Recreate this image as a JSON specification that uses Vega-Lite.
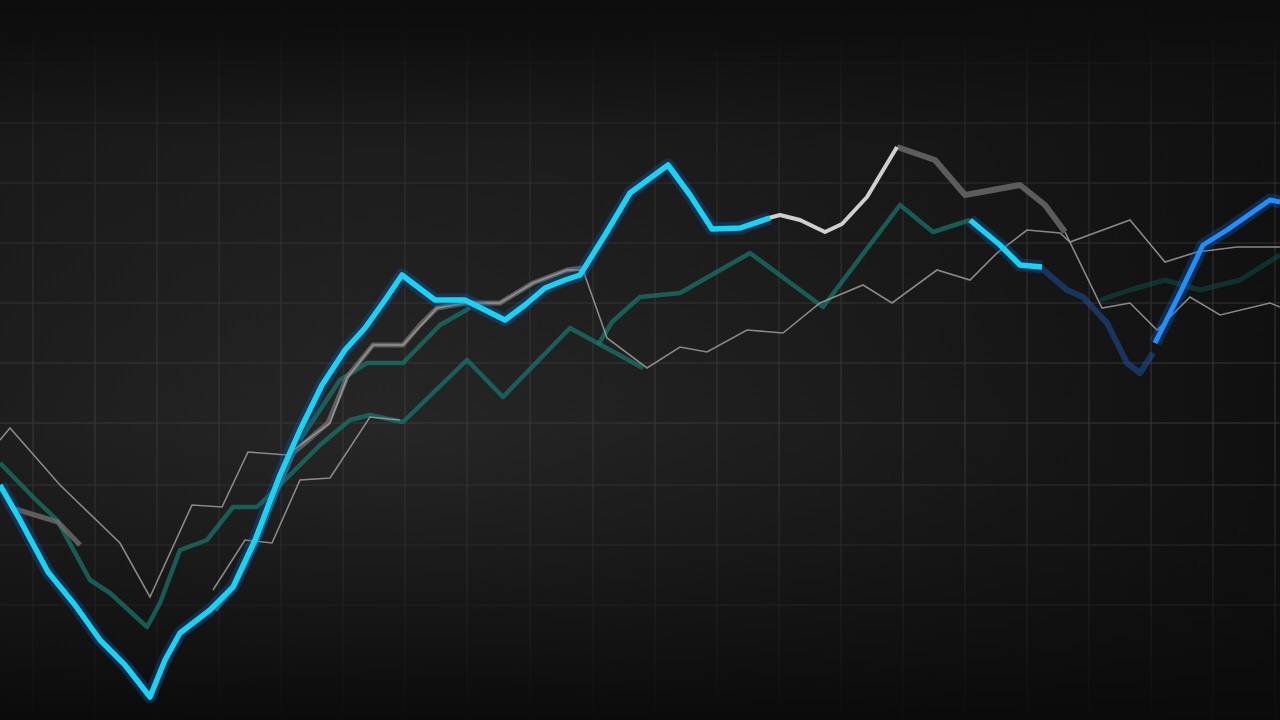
{
  "$schema": "https://vega.github.io/schema/vega-lite/v6.json",
  "width": 1280,
  "height": 720,
  "padding": 0,
  "autosize": {"type": "none"},
  "background": "#0d0d0d",
  "config": {
    "view": {
      "stroke": null,
      "fill": {"gradient": "radial", "x1": 0.3, "y1": 0.55, "r1": 0, "x2": 0.3, "y2": 0.55, "r2": 0.8,
        "stops": [{"offset": 0, "color": "#262626"}, {"offset": 0.45, "color": "#1c1c1c"}, {"offset": 1, "color": "#0c0c0c"}]}
    }
  },
  "datasets": {
    "gx": [{"x":33},{"x":95},{"x":157},{"x":219},{"x":281},{"x":343},{"x":405},{"x":467},{"x":530},{"x":593},{"x":655},{"x":717},{"x":779},{"x":841},{"x":903},{"x":965},{"x":1027},{"x":1089},{"x":1151},{"x":1213},{"x":1275}],
    "gy": [{"v":657},{"v":597},{"v":537},{"v":477},{"v":417},{"v":357},{"v":297},{"v":235},{"v":175},{"v":115}],
    "pts": [
      {"s":"cyan","i":1,"x":0,"v":235},{"s":"cyan","i":2,"x":20,"v":200},{"s":"cyan","i":3,"x":48,"v":148},{"s":"cyan","i":4,"x":75,"v":115},{"s":"cyan","i":5,"x":100,"v":80},{"s":"cyan","i":6,"x":125,"v":55},{"s":"cyan","i":7,"x":150,"v":23},{"s":"cyan","i":8,"x":165,"v":60},{"s":"cyan","i":9,"x":180,"v":87},{"s":"cyan","i":10,"x":210,"v":110},{"s":"cyan","i":11,"x":233,"v":133},{"s":"cyan","i":12,"x":255,"v":180},{"s":"cyan","i":13,"x":280,"v":245},{"s":"cyan","i":14,"x":300,"v":290},{"s":"cyan","i":15,"x":322,"v":335},{"s":"cyan","i":16,"x":345,"v":370},{"s":"cyan","i":17,"x":365,"v":392},{"s":"cyan","i":18,"x":385,"v":420},{"s":"cyan","i":19,"x":402,"v":445},{"s":"cyan","i":20,"x":435,"v":420},{"s":"cyan","i":21,"x":465,"v":420},{"s":"cyan","i":22,"x":485,"v":410},{"s":"cyan","i":23,"x":505,"v":400},{"s":"cyan","i":24,"x":525,"v":415},{"s":"cyan","i":25,"x":545,"v":432},{"s":"cyan","i":26,"x":565,"v":440},{"s":"cyan","i":27,"x":580,"v":445},{"s":"cyan","i":28,"x":605,"v":485},{"s":"cyan","i":29,"x":630,"v":527},{"s":"cyan","i":30,"x":668,"v":555},{"s":"cyan","i":31,"x":690,"v":525},{"s":"cyan","i":32,"x":712,"v":491},{"s":"cyan","i":33,"x":740,"v":492},{"s":"cyan","i":34,"x":770,"v":502},
      {"s":"gw1","i":1,"x":765,"v":501},{"s":"gw1","i":2,"x":780,"v":505},{"s":"gw1","i":3,"x":800,"v":500},{"s":"gw1","i":4,"x":825,"v":488},{"s":"gw1","i":5,"x":842,"v":496},{"s":"gw1","i":6,"x":867,"v":523},{"s":"gw1","i":7,"x":897,"v":573},
      {"s":"gw2","i":1,"x":897,"v":573},{"s":"gw2","i":2,"x":935,"v":560},{"s":"gw2","i":3,"x":965,"v":525},{"s":"gw2","i":4,"x":1020,"v":535},{"s":"gw2","i":5,"x":1045,"v":515},{"s":"gw2","i":6,"x":1065,"v":488},
      {"s":"gt","i":1,"x":215,"v":110},{"s":"gt","i":2,"x":235,"v":135},{"s":"gt","i":3,"x":255,"v":175},{"s":"gt","i":4,"x":275,"v":225},{"s":"gt","i":5,"x":293,"v":267},{"s":"gt","i":6,"x":328,"v":297},{"s":"gt","i":7,"x":347,"v":343},{"s":"gt","i":8,"x":373,"v":375},{"s":"gt","i":9,"x":403,"v":375},{"s":"gt","i":10,"x":420,"v":395},{"s":"gt","i":11,"x":437,"v":412},{"s":"gt","i":12,"x":465,"v":417},{"s":"gt","i":13,"x":500,"v":417},{"s":"gt","i":14,"x":533,"v":437},{"s":"gt","i":15,"x":567,"v":450},{"s":"gt","i":16,"x":583,"v":452},
      {"s":"gt0","i":1,"x":12,"v":212},{"s":"gt0","i":2,"x":25,"v":208},{"s":"gt0","i":3,"x":58,"v":198},{"s":"gt0","i":4,"x":80,"v":175},
      {"s":"thinA","i":1,"x":0,"v":280},{"s":"thinA","i":2,"x":10,"v":292},{"s":"thinA","i":3,"x":60,"v":235},{"s":"thinA","i":4,"x":120,"v":177},{"s":"thinA","i":5,"x":150,"v":123},{"s":"thinA","i":6,"x":192,"v":215},{"s":"thinA","i":7,"x":222,"v":213},{"s":"thinA","i":8,"x":248,"v":268},{"s":"thinA","i":9,"x":287,"v":265},{"s":"thinA","i":10,"x":330,"v":297},{"s":"thinA","i":11,"x":347,"v":342},{"s":"thinA","i":12,"x":373,"v":375},{"s":"thinA","i":13,"x":403,"v":375},{"s":"thinA","i":14,"x":437,"v":412},{"s":"thinA","i":15,"x":465,"v":417},{"s":"thinA","i":16,"x":500,"v":417},{"s":"thinA","i":17,"x":533,"v":437},{"s":"thinA","i":18,"x":567,"v":450},{"s":"thinA","i":19,"x":583,"v":450},{"s":"thinA","i":20,"x":607,"v":382},{"s":"thinA","i":21,"x":647,"v":352},{"s":"thinA","i":22,"x":680,"v":373},{"s":"thinA","i":23,"x":707,"v":368},{"s":"thinA","i":24,"x":747,"v":390},{"s":"thinA","i":25,"x":783,"v":387},{"s":"thinA","i":26,"x":820,"v":417},{"s":"thinA","i":27,"x":863,"v":435},{"s":"thinA","i":28,"x":892,"v":417},{"s":"thinA","i":29,"x":937,"v":450},{"s":"thinA","i":30,"x":970,"v":440},{"s":"thinA","i":31,"x":997,"v":467},{"s":"thinA","i":32,"x":1027,"v":490},{"s":"thinA","i":33,"x":1060,"v":487},{"s":"thinA","i":34,"x":1070,"v":478},{"s":"thinA","i":35,"x":1130,"v":500},{"s":"thinA","i":36,"x":1165,"v":458},{"s":"thinA","i":37,"x":1197,"v":468},{"s":"thinA","i":38,"x":1237,"v":473},{"s":"thinA","i":39,"x":1280,"v":473},
      {"s":"thinB","i":1,"x":213,"v":130},{"s":"thinB","i":2,"x":245,"v":180},{"s":"thinB","i":3,"x":272,"v":177},{"s":"thinB","i":4,"x":300,"v":240},{"s":"thinB","i":5,"x":330,"v":242},{"s":"thinB","i":6,"x":370,"v":303},{"s":"thinB","i":7,"x":400,"v":300},
      {"s":"thinD","i":1,"x":1065,"v":488},{"s":"thinD","i":2,"x":1102,"v":412},{"s":"thinD","i":3,"x":1130,"v":417},{"s":"thinD","i":4,"x":1157,"v":390},{"s":"thinD","i":5,"x":1190,"v":423},{"s":"thinD","i":6,"x":1220,"v":405},{"s":"thinD","i":7,"x":1270,"v":417},{"s":"thinD","i":8,"x":1280,"v":413},
      {"s":"tealA","i":1,"x":0,"v":257},{"s":"tealA","i":2,"x":33,"v":223},{"s":"tealA","i":3,"x":57,"v":200},{"s":"tealA","i":4,"x":90,"v":140},{"s":"tealA","i":5,"x":110,"v":127},{"s":"tealA","i":6,"x":147,"v":93},{"s":"tealA","i":7,"x":160,"v":117},{"s":"tealA","i":8,"x":180,"v":170},{"s":"tealA","i":9,"x":207,"v":180},{"s":"tealA","i":10,"x":233,"v":213},{"s":"tealA","i":11,"x":257,"v":213},{"s":"tealA","i":12,"x":285,"v":240},{"s":"tealA","i":13,"x":320,"v":275},{"s":"tealA","i":14,"x":350,"v":300},{"s":"tealA","i":15,"x":370,"v":305},{"s":"tealA","i":16,"x":403,"v":298},{"s":"tealA","i":17,"x":467,"v":360},{"s":"tealA","i":18,"x":503,"v":323},{"s":"tealA","i":19,"x":570,"v":392},{"s":"tealA","i":20,"x":643,"v":352},
      {"s":"tealB","i":1,"x":300,"v":280},{"s":"tealB","i":2,"x":340,"v":340},{"s":"tealB","i":3,"x":367,"v":357},{"s":"tealB","i":4,"x":403,"v":357},{"s":"tealB","i":5,"x":440,"v":395},{"s":"tealB","i":6,"x":470,"v":412},
      {"s":"tealC","i":1,"x":598,"v":375},{"s":"tealC","i":2,"x":612,"v":398},{"s":"tealC","i":3,"x":640,"v":423},{"s":"tealC","i":4,"x":680,"v":427},{"s":"tealC","i":5,"x":750,"v":467},{"s":"tealC","i":6,"x":823,"v":413},{"s":"tealC","i":7,"x":900,"v":515},{"s":"tealC","i":8,"x":933,"v":488},{"s":"tealC","i":9,"x":970,"v":500},
      {"s":"tealR","i":1,"x":1100,"v":420},{"s":"tealR","i":2,"x":1130,"v":430},{"s":"tealR","i":3,"x":1165,"v":440},{"s":"tealR","i":4,"x":1200,"v":430},{"s":"tealR","i":5,"x":1240,"v":440},{"s":"tealR","i":6,"x":1280,"v":465},
      {"s":"cyan2","i":1,"x":970,"v":500},{"s":"cyan2","i":2,"x":1000,"v":475},{"s":"cyan2","i":3,"x":1020,"v":455},{"s":"cyan2","i":4,"x":1042,"v":453},
      {"s":"fade","i":1,"x":1040,"v":453},{"s":"fade","i":2,"x":1067,"v":430},{"s":"fade","i":3,"x":1083,"v":423},{"s":"fade","i":4,"x":1107,"v":397},{"s":"fade","i":5,"x":1127,"v":357},{"s":"fade","i":6,"x":1140,"v":347},{"s":"fade","i":7,"x":1153,"v":367},
      {"s":"blue","i":1,"x":1155,"v":377},{"s":"blue","i":2,"x":1180,"v":427},{"s":"blue","i":3,"x":1203,"v":475},{"s":"blue","i":4,"x":1227,"v":490},{"s":"blue","i":5,"x":1270,"v":520},{"s":"blue","i":6,"x":1280,"v":518}
    ],
    "frame": [{"x0": 0, "x1": 1280, "v0": 0, "v1": 720}]
  },
  "encoding": {
    "x": {"field": "x", "type": "quantitative", "scale": {"domain": [0, 1280], "nice": false, "zero": false}, "axis": null},
    "y": {"field": "v", "type": "quantitative", "scale": {"domain": [0, 720], "nice": false, "zero": false}, "axis": null}
  },
  "layer": [
    {
      "data": {"name": "gx"},
      "mark": {"type": "rule", "color": "#3b3b3b", "strokeWidth": 1},
      "encoding": {"x": {"field": "x", "type": "quantitative"}, "y": null}
    },
    {
      "data": {"name": "gy"},
      "mark": {"type": "rule", "color": "#383838", "strokeWidth": 1},
      "encoding": {"y": {"field": "v", "type": "quantitative"}, "x": null}
    },
    {
      "data": {"name": "frame"},
      "mark": {"type": "rect", "fill": {"gradient": "linear", "x1": 0, "y1": 0, "x2": 0, "y2": 1,
        "stops": [{"offset": 0, "color": "rgba(13,13,13,1)"}, {"offset": 0.05, "color": "rgba(14,14,14,0.95)"}, {"offset": 0.2, "color": "rgba(20,20,20,0.3)"}, {"offset": 0.6, "color": "rgba(20,20,20,0)"}, {"offset": 0.8, "color": "rgba(14,14,14,0.45)"}, {"offset": 1, "color": "rgba(10,10,10,0.95)"}]}},
      "encoding": {"x": {"field": "x0", "type": "quantitative"}, "x2": {"field": "x1"}, "y": {"field": "v0", "type": "quantitative"}, "y2": {"field": "v1"}}
    },
    {
      "data": {"name": "pts"},
      "transform": [{"filter": {"field": "s", "oneOf": ["tealA", "tealB", "tealC"]}}],
      "mark": {"type": "line", "clip": true, "color": "#16776e", "strokeWidth": 4.5, "opacity": 0.72, "strokeJoin": "round"},
      "encoding": {"detail": {"field": "s"}, "order": {"field": "i"}}
    },
    {
      "data": {"name": "pts"},
      "transform": [{"filter": {"field": "s", "oneOf": ["tealR"]}}],
      "mark": {"type": "line", "clip": true, "color": "#0f4c46", "strokeWidth": 5, "opacity": 0.55, "strokeJoin": "round"},
      "encoding": {"detail": {"field": "s"}, "order": {"field": "i"}}
    },
    {
      "data": {"name": "pts"},
      "transform": [{"filter": {"field": "s", "oneOf": ["gt", "gt0"]}}],
      "mark": {"type": "line", "clip": true, "color": "#6e6e6e", "strokeWidth": 5, "opacity": 0.8, "strokeJoin": "round"},
      "encoding": {"detail": {"field": "s"}, "order": {"field": "i"}}
    },
    {
      "data": {"name": "pts"},
      "transform": [{"filter": {"field": "s", "oneOf": ["thinA", "thinB", "thinD"]}}],
      "mark": {"type": "line", "clip": true, "color": "#9c9c9c", "strokeWidth": 1.6, "opacity": 0.85},
      "encoding": {"detail": {"field": "s"}, "order": {"field": "i"}}
    },
    {
      "data": {"name": "pts"},
      "transform": [{"filter": {"field": "s", "oneOf": ["gw2"]}}],
      "mark": {"type": "line", "clip": true, "color": "#5c5c5c", "strokeWidth": 6, "strokeJoin": "round"},
      "encoding": {"detail": {"field": "s"}, "order": {"field": "i"}}
    },
    {
      "data": {"name": "pts"},
      "transform": [{"filter": {"field": "s", "oneOf": ["gw1"]}}],
      "mark": {"type": "line", "clip": true, "color": "#cfcfcf", "strokeWidth": 4, "strokeJoin": "round"},
      "encoding": {"detail": {"field": "s"}, "order": {"field": "i"}}
    },
    {
      "data": {"name": "pts"},
      "transform": [{"filter": {"field": "s", "oneOf": ["fade"]}}],
      "mark": {"type": "line", "clip": true, "color": "#1d4f9c", "strokeWidth": 6, "opacity": 0.55, "strokeJoin": "round"},
      "encoding": {"detail": {"field": "s"}, "order": {"field": "i"}}
    },
    {
      "data": {"name": "pts"},
      "transform": [{"filter": {"field": "s", "oneOf": ["cyan", "cyan2", "blue"]}}],
      "mark": {"type": "line", "clip": true, "color": "#0b5fc4", "strokeWidth": 13, "opacity": 0.3, "strokeJoin": "round"},
      "encoding": {"detail": {"field": "s"}, "order": {"field": "i"}}
    },
    {
      "data": {"name": "pts"},
      "transform": [{"filter": {"field": "s", "oneOf": ["cyan", "cyan2"]}}],
      "mark": {"type": "line", "clip": true, "color": "#18d4f3", "strokeWidth": 5.5, "strokeJoin": "round"},
      "encoding": {"detail": {"field": "s"}, "order": {"field": "i"}}
    },
    {
      "data": {"name": "pts"},
      "transform": [{"filter": {"field": "s", "oneOf": ["blue"]}}],
      "mark": {"type": "line", "clip": true, "color": "#1f8fff", "strokeWidth": 5, "strokeJoin": "round"},
      "encoding": {"detail": {"field": "s"}, "order": {"field": "i"}}
    }
  ]
}
